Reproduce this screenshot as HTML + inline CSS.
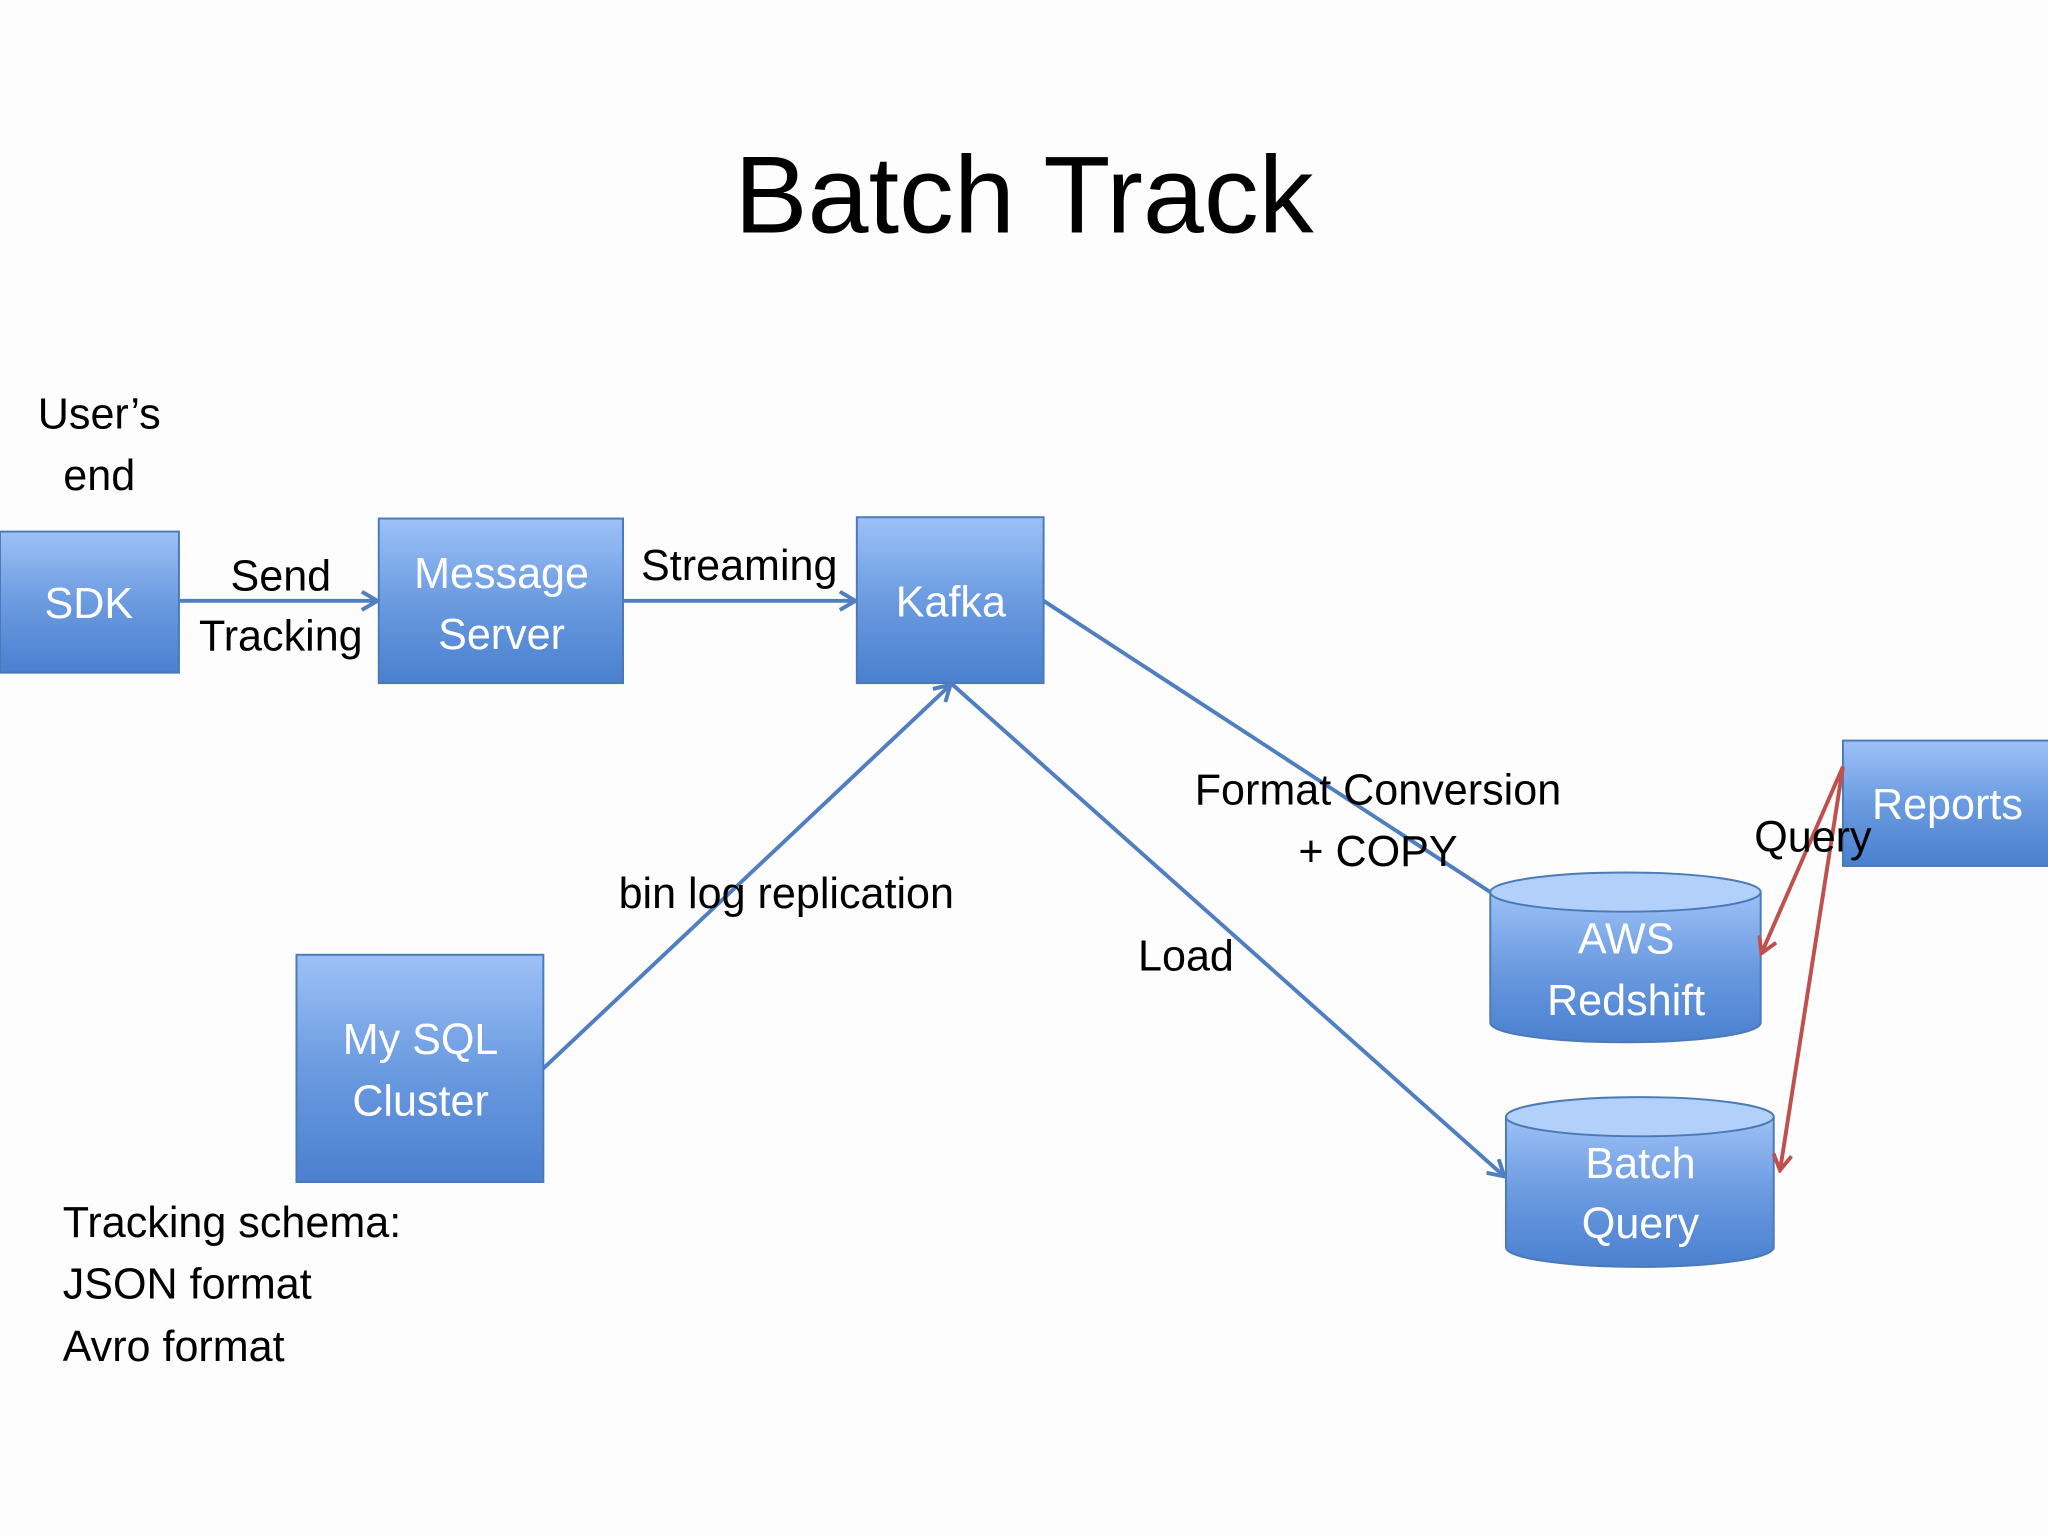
<!DOCTYPE html>
<html><head><meta charset="utf-8"><style>
html,body{margin:0;padding:0;background:#fdfdfd;}
svg{display:block}
text{font-family:"Liberation Sans",sans-serif;}
</style></head><body>
<svg width="2048" height="1536" viewBox="0 0 1568 1176" xmlns="http://www.w3.org/2000/svg">
<defs>
<linearGradient id="g" x1="0" y1="0" x2="0" y2="1">
<stop offset="0" stop-color="#9dc1f7"/><stop offset="0.5" stop-color="#6b9be0"/><stop offset="1" stop-color="#4a80cf"/>
</linearGradient>
<marker id="ab" markerWidth="16" markerHeight="16" refX="13" refY="8" orient="auto" markerUnits="userSpaceOnUse" viewBox="0 0 16 16">
<path d="M2,1 L14,8 L2,15" fill="none" stroke="#4f7fc0" stroke-width="3"/></marker>
<marker id="ar" markerWidth="16" markerHeight="16" refX="13" refY="8" orient="auto" markerUnits="userSpaceOnUse" viewBox="0 0 16 16">
<path d="M2,1 L14,8 L2,15" fill="none" stroke="#c0504d" stroke-width="3"/></marker>
</defs>
<rect width="1568" height="1176" fill="#fdfdfd"/>
<text x="784" y="178" font-size="84" text-anchor="middle" fill="#000">Batch Track</text>

<g stroke="#4a7ab8" stroke-width="1.5" fill="url(#g)">
<rect x="0" y="407" width="137" height="108"/>
<rect x="290" y="397" width="187" height="126"/>
<rect x="656" y="396" width="143" height="127"/>
<rect x="227" y="731" width="189" height="174"/>
<rect x="1411" y="567" width="160" height="96"/>
<path d="M1141,683 L1141,783 A103.5,15 0 0 0 1348,783 L1348,683 Z"/>
<ellipse cx="1244.5" cy="683" rx="103.5" ry="15" fill="#b3d0fa"/>
<path d="M1153,855 L1153,955 A102.5,15 0 0 0 1358,955 L1358,855 Z"/>
<ellipse cx="1255.5" cy="855" rx="102.5" ry="15" fill="#b3d0fa"/>
</g>

<g stroke="#4f7fc0" stroke-width="3" fill="none">
<line x1="137" y1="460" x2="288" y2="460" marker-end="url(#ab)"/>
<line x1="477" y1="460" x2="654" y2="460" marker-end="url(#ab)"/>
<line x1="799" y1="460" x2="1141" y2="683"/>
<line x1="728" y1="523" x2="1151" y2="900" marker-end="url(#ab)"/>
<line x1="416" y1="818" x2="727" y2="525" marker-end="url(#ab)"/>
</g>
<g stroke="#c0504d" stroke-width="3" fill="none">
<line x1="1411" y1="587" x2="1349" y2="729" marker-end="url(#ar)"/>
<line x1="1411" y1="587" x2="1363" y2="895" marker-end="url(#ar)"/>
</g>

<g fill="#fff" font-size="33" text-anchor="middle">
<text x="68" y="473">SDK</text>
<text x="384" y="450">Message</text>
<text x="384" y="497">Server</text>
<text x="728" y="472">Kafka</text>
<text x="322" y="807">My SQL</text>
<text x="322" y="854">Cluster</text>
<text x="1491" y="627">Reports</text>
<text x="1245" y="730">AWS</text>
<text x="1245" y="777">Redshift</text>
<text x="1256" y="902">Batch</text>
<text x="1256" y="948">Query</text>
</g>

<g fill="#000" font-size="33">
<text x="76" y="328" text-anchor="middle">User’s</text>
<text x="76" y="375" text-anchor="middle">end</text>
<text x="215" y="452" text-anchor="middle">Send</text>
<text x="215" y="498" text-anchor="middle">Tracking</text>
<text x="566" y="444" text-anchor="middle">Streaming</text>
<text x="1055" y="616" text-anchor="middle">Format Conversion</text>
<text x="1055" y="663" text-anchor="middle">+ COPY</text>
<text x="602" y="695" text-anchor="middle">bin log replication</text>
<text x="908" y="743" text-anchor="middle">Load</text>
<text x="1388" y="652" text-anchor="middle">Query</text>
<text x="48" y="947">Tracking schema:</text>
<text x="48" y="994">JSON format</text>
<text x="48" y="1042">Avro format</text>
</g>
</svg>
</body></html>
